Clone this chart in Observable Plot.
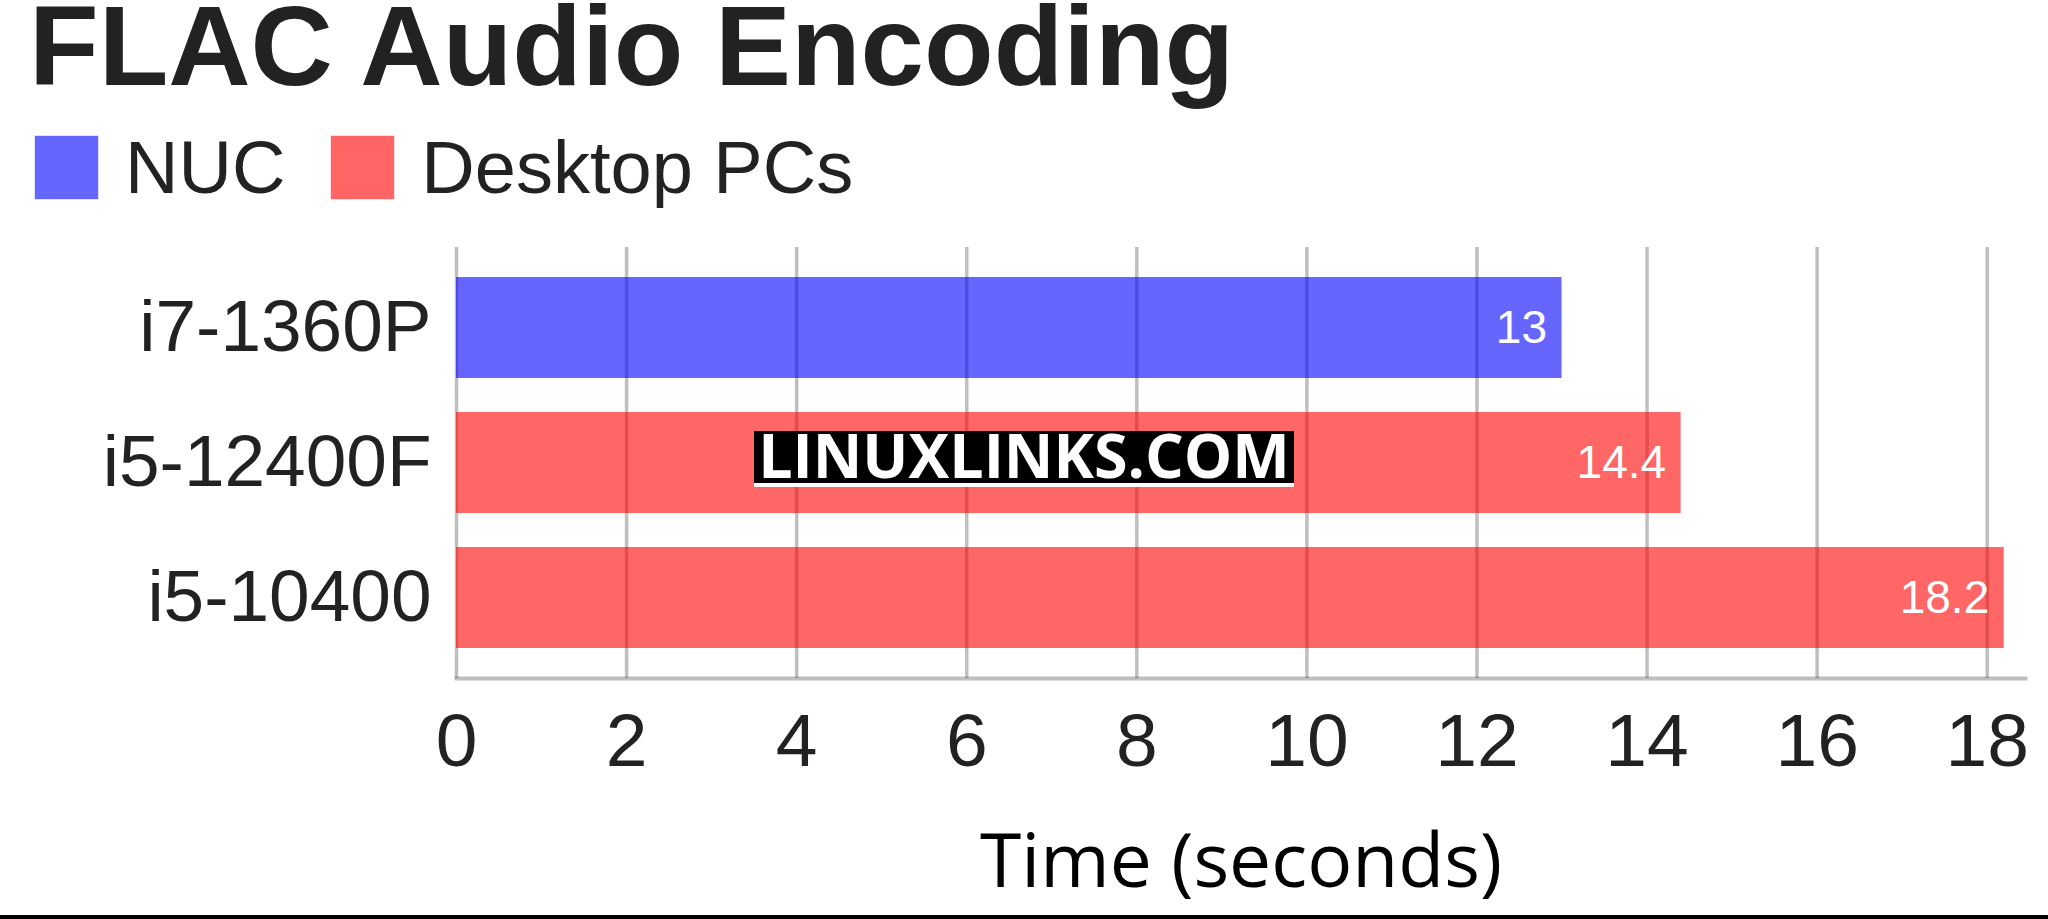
<!DOCTYPE html>
<html>
<head>
<meta charset="utf-8">
<script src="https://cdn.jsdelivr.net/npm/d3@7"></script>
<script src="https://cdn.jsdelivr.net/npm/@observablehq/plot@0.6"></script>
<style>
  html, body { margin: 0; padding: 0; background: #fff; overflow: hidden; }
  #page { position: relative; width: 2048px; height: 919px; overflow: hidden; background: #fff; }
  #title { position: absolute; left: 29px; top: 0px; line-height: 0.8; font-family: "Liberation Sans", Arial, sans-serif; font-weight: bold; font-size: 114px; color: #222; white-space: nowrap; }
  #legend { position: absolute; left: 35px; top: 135px; height: 65px; display: flex; align-items: center; font-family: "Liberation Sans", Arial, sans-serif; font-size: 74px; color: #222; }
  .item { display: flex; align-items: center; margin-right: 46px; white-space: nowrap; }
  .sw { width: 63px; height: 63px; margin-right: 27px; }
  #chart { position: absolute; left: 0; top: 230px; }
  #wm { position: absolute; left: 754px; top: 431px; width: 540px; height: 52px; line-height: 47px; background: #000; color: #fff; border-bottom: 4px solid #fff; font-family: "Open Sans", "Noto Sans", sans-serif; font-weight: bold; font-size: 61px; text-align: center; white-space: nowrap; }
  #rule { position: absolute; left: 0; top: 915px; width: 2048px; height: 4px; background: #000; }
  g[aria-label="x-axis label"] { font-family: "Open Sans", "Noto Sans", sans-serif; font-size: 75px; fill: #000; }
</style>
</head>
<body>
<div id="page">
  <div id="title"></div>
  <div id="legend"></div>
  <div id="chart"></div>
  <div id="wm">LINUXLINKS.COM</div>
  <div id="rule"></div>
</div>
<script>
const titleText = "FLAC Audio Encoding";
const axisTitle = "Time (seconds)";
const categories = ["i7-1360P", "i5-12400F", "i5-10400"];
const times = [13, 14.4, 18.2];
const groups = ["NUC", "Desktop PCs", "Desktop PCs"];
const seriesNames = ["NUC", "Desktop PCs"];
const seriesColors = ["#0000ff", "#ff0000"];
const xTicks = [0, 2, 4, 6, 8, 10, 12, 14, 16, 18];

document.getElementById("title").textContent = titleText;

const legend = document.getElementById("legend");
seriesNames.forEach((name, i) => {
  const item = document.createElement("div");
  item.className = "item";
  const sw = document.createElement("div");
  sw.className = "sw";
  sw.style.background = seriesColors[i];
  sw.style.opacity = 0.6;
  sw.style.outline = "1px solid " + seriesColors[i] + "33";
  const lab = document.createElement("span");
  lab.textContent = name;
  item.appendChild(sw);
  item.appendChild(lab);
  legend.appendChild(item);
});

const data = categories.map((c, i) => ({cat: c, time: times[i], group: groups[i]}));

const chart = Plot.plot({
  width: 2048,
  height: 680,
  marginTop: 17,
  marginBottom: 232,
  marginLeft: 456,
  marginRight: 23,
  style: {background: "transparent", color: "#222", overflow: "visible"},
  x: {domain: [0, 18.45]},
  y: {domain: categories, paddingInner: 0.25, paddingOuter: 0.22},
  color: {domain: seriesNames, range: seriesColors},
  marks: [
    Plot.gridX({ticks: xTicks, stroke: "#000", strokeOpacity: 0.25, strokeWidth: 3.5}),
    Plot.barX(data, {x: "time", y: "cat", fill: "group", fillOpacity: 0.6}),
    Plot.frame({anchor: "bottom", stroke: "#000", strokeOpacity: 0.25, strokeWidth: 4}),
    Plot.text(data, {x: "time", y: "cat", text: d => String(d.time), textAnchor: "end", dx: -15, fill: "#fff", fontSize: 46, fontFamily: "Liberation Sans, Arial, sans-serif"}),
    Plot.axisX({ticks: xTicks, tickSize: 0, tickPadding: 34, fontSize: 75, fontFamily: "Liberation Sans, Arial, sans-serif", label: axisTitle, labelAnchor: "center", labelOffset: 208, labelArrow: "none"}),
    Plot.axisY({tickSize: 0, tickPadding: 25, fontSize: 73, fontFamily: "Liberation Sans, Arial, sans-serif", label: null})
  ]
});
document.getElementById("chart").appendChild(chart);
</script>
</body>
</html>
